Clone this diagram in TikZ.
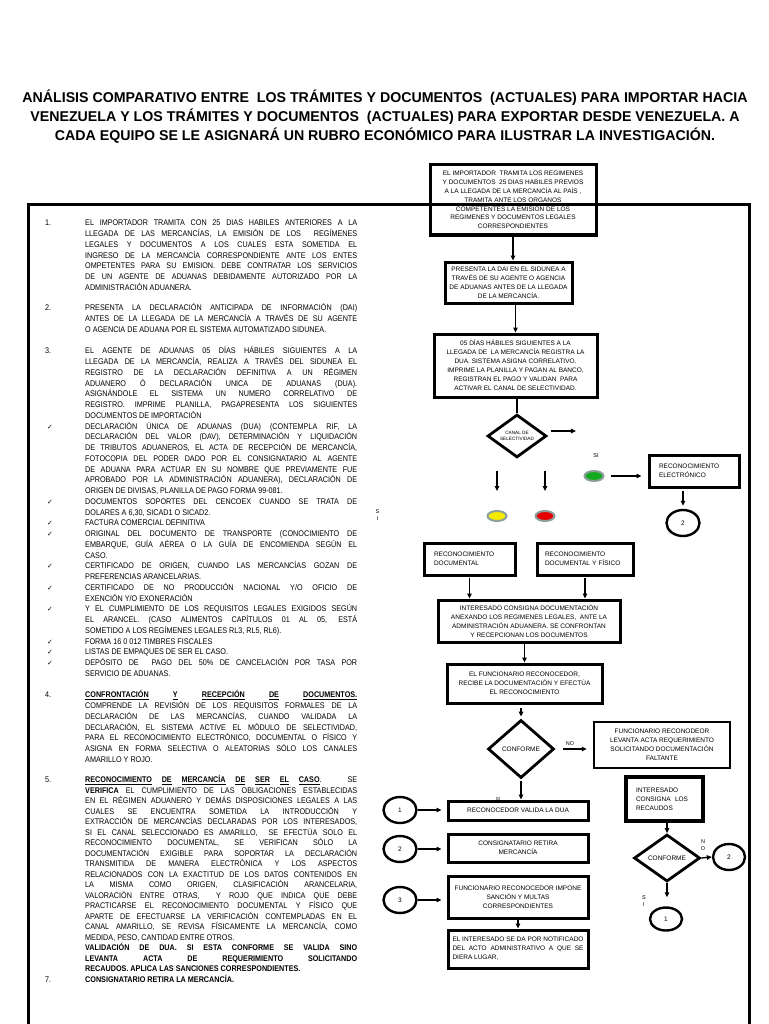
\documentclass[tikz,border=0pt]{standalone}
\usepackage{fontspec}
\setmainfont{Liberation Sans}
\newfontfamily\chkfont{DejaVu Sans}
\newfontfamily\colfam[FakeStretch=0.88]{Liberation Sans}
\usetikzlibrary{shapes.geometric,arrows.meta,calc}
\definecolor{bordeluz}{RGB}{140,158,158}
\definecolor{luzverde}{RGB}{20,170,30}
\definecolor{luzamarilla}{RGB}{245,235,0}
\definecolor{luzroja}{RGB}{230,0,0}
\newcommand{\numit}[1]{\leavevmode\llap{\makebox[40pt][l]{#1}}}
\newcommand{\marca}{\leavevmode\llap{\makebox[38pt][l]{\chkfont\fontsize{6.8}{6.8}\selectfont ✓}}}
\newcommand{\colfont}{\colfam\fontsize{8.2}{10.75}\selectfont\parindent=0pt\tolerance=10000\hbadness=10000\relax}

\begin{document}
\begin{tikzpicture}[x=1pt,y=-1pt,font=\fontsize{6.5}{9}\selectfont,>={Triangle[length=5pt,width=4.5pt]},
  caja/.style={draw,line width=3pt,align=center,inner sep=1pt},
  cajai/.style={caja,align=left,text width=#1},
  rombo/.style={draw,diamond,line width=2.8pt,inner sep=0pt,align=center},
  circ/.style={draw,ellipse,line width=2.4pt,inner sep=0pt,minimum width=33pt,minimum height=26pt},
  luz/.style={draw=bordeluz,ellipse,line width=2pt,inner sep=0pt,minimum width=19pt,minimum height=10pt},
  flecha/.style={->,line width=1.3pt},
  etq/.style={inner sep=0pt,align=center,font=\fontsize{5.5}{7}\selectfont},
  lcol/.style={anchor=north west,inner sep=0pt,text width=272pt,align=justify,font=\colfont}]
\useasboundingbox (0,0) rectangle (768,1024);

% titulo
\node[inner sep=0pt,anchor=north,align=center,font=\fontsize{14.2}{19}\selectfont\bfseries] (titulo) at (385,89.5)
  {\rule{0pt}{13.3pt}ANÁLISIS COMPARATIVO ENTRE\ \ LOS TRÁMITES Y DOCUMENTOS\ \ (ACTUALES) PARA IMPORTAR HACIA\\
   VENEZUELA Y LOS TRÁMITES Y DOCUMENTOS\ \ (ACTUALES) PARA EXPORTAR DESDE VENEZUELA. A\\
   CADA EQUIPO SE LE ASIGNARÁ UN RUBRO ECONÓMICO PARA ILUSTRAR LA INVESTIGACIÓN.};

% columna izquierda
\node[lcol] (it1) at (85,218) {\rule{0pt}{7.6pt}\numit{1.}EL IMPORTADOR TRAMITA CON 25 DIAS HABILES ANTERIORES A LA\linebreak
LLEGADA DE LAS MERCANCÍAS, LA EMISIÓN DE LOS\ \ REGÍMENES\linebreak
LEGALES Y DOCUMENTOS A LOS CUALES ESTA SOMETIDA EL\linebreak
INGRESO DE LA MERCANCÍA CORRESPONDIENTE ANTE LOS ENTES\linebreak
OMPETENTES PARA SU EMISION. DEBE CONTRATAR LOS SERVICIOS\linebreak
DE UN AGENTE DE ADUANAS DEBIDAMENTE AUTORIZADO POR LA\linebreak
ADMINISTRACIÓN ADUANERA.};
\node[lcol] (it2) at (85,303) {\rule{0pt}{7.6pt}\numit{2.}PRESENTA LA DECLARACIÓN ANTICIPADA DE INFORMACIÓN (DAI)\linebreak
ANTES DE LA LLEGADA DE LA MERCANCÍA A TRAVÉS DE SU AGENTE\linebreak
O AGENCIA DE ADUANA POR EL SISTEMA AUTOMATIZADO SIDUNEA.};
\node[lcol] (it3) at (85,346) {\rule{0pt}{7.6pt}\numit{3.}EL AGENTE DE ADUANAS 05 DÍAS HÁBILES SIGUIENTES A LA\linebreak
LLEGADA DE LA MERCANCÍA, REALIZA A TRAVÉS DEL SIDUNEA EL\linebreak
REGISTRO DE LA DECLARACIÓN DEFINITIVA A UN RÉGIMEN\linebreak
ADUANERO Ó DECLARACIÓN UNICA DE ADUANAS (DUA).\linebreak
ASIGNÁNDOLE EL SISTEMA UN NUMERO CORRELATIVO DE\linebreak
REGISTRO. IMPRIME PLANILLA, PAGAPRESENTA LOS SIGUIENTES\linebreak
DOCUMENTOS DE IMPORTACIÓN\par
\marca DECLARACIÓN ÚNICA DE ADUANAS (DUA) (CONTEMPLA RIF, LA\linebreak
DECLARACIÓN DEL VALOR (DAV), DETERMINACIÓN Y LIQUIDACIÓN\linebreak
DE TRIBUTOS ADUANEROS, EL ACTA DE RECEPCIÓN DE MERCANCÍA,\linebreak
FOTOCOPIA DEL PODER DADO POR EL CONSIGNATARIO AL AGENTE\linebreak
DE ADUANA PARA ACTUAR EN SU NOMBRE QUE PREVIAMENTE FUE\linebreak
APROBADO POR LA ADMINISTRACIÓN ADUANERA), DECLARACIÓN DE\linebreak
ORIGEN DE DIVISAS, PLANILLA DE PAGO FORMA 99-081.\par
\marca DOCUMENTOS SOPORTES DEL CENCOEX CUANDO SE TRATA DE\linebreak
DOLARES A 6,30, SICAD1 O SICAD2.\par
\marca FACTURA COMERCIAL DEFINITIVA\par
\marca ORIGINAL DEL DOCUMENTO DE TRANSPORTE (CONOCIMIENTO DE\linebreak
EMBARQUE, GUÍA AÉREA O LA GUÍA DE ENCOMIENDA SEGÚN EL\linebreak
CASO.\par
\marca CERTIFICADO DE ORIGEN, CUANDO LAS MERCANCÍAS GOZAN DE\linebreak
PREFERENCIAS ARANCELARIAS.\par
\marca CERTIFICADO DE NO PRODUCCIÓN NACIONAL Y/O OFICIO DE\linebreak
EXENCIÓN Y/O EXONERACIÓN\par
\marca Y EL CUMPLIMIENTO DE LOS REQUISITOS LEGALES EXIGIDOS SEGÚN\linebreak
EL ARANCEL. (CASO ALIMENTOS CAPÍTULOS 01 AL 05, ESTÁ\linebreak
SOMETIDO A LOS REGÍMENES LEGALES RL3, RL5, RL6).\par
\marca FORMA 16 0 012 TIMBRES FISCALES\par
\marca LISTAS DE EMPAQUES DE SER EL CASO.\par
\marca DEPÓSITO DE\ \ PAGO DEL 50\% DE CANCELACIÓN POR TASA POR\linebreak
SERVICIO DE ADUANAS.};
\node[lcol] (it4) at (85,690) {\rule{0pt}{7.6pt}\numit{4.}\textbf{\underline{CONFRONTACIÓN} \underline{Y} \underline{RECEPCIÓN} \underline{DE} \underline{DOCUMENTOS.}}\linebreak
COMPRENDE LA REVISIÓN DE LOS REQUISITOS FORMALES DE LA\linebreak
DECLARACIÓN DE LAS MERCANCÍAS, CUANDO VALIDADA LA\linebreak
DECLARACIÓN, EL SISTEMA ACTIVE EL MÓDULO DE SELECTIVIDAD,\linebreak
PARA EL RECONOCIMIENTO ELECTRÓNICO, DOCUMENTAL O FÍSICO Y\linebreak
ASIGNA EN FORMA SELECTIVA O ALEATORIAS SÓLO LOS CANALES\linebreak
AMARILLO Y ROJO.};
\node[lcol] (it5) at (85,775) {\fontsize{8.2}{10.5}\selectfont\rule{0pt}{7.6pt}\numit{5.}\textbf{\underline{RECONOCIMIENTO} \underline{DE} \underline{MERCANCÍA} \underline{DE} \underline{SER} \underline{EL} \underline{CASO}}. SE\linebreak
\textbf{VERIFICA} EL CUMPLIMIENTO DE LAS OBLIGACIONES ESTABLECIDAS\linebreak
EN EL RÉGIMEN ADUANERO Y DEMÁS DISPOSICIONES LEGALES A LAS\linebreak
CUALES SE ENCUENTRA SOMETIDA LA INTRODUCCIÓN Y\linebreak
EXTRACCIÓN DE MERCANCÍAS DECLARADAS POR LOS INTERESADOS,\linebreak
SI EL CANAL SELECCIONADO ES AMARILLO,\ \ SE EFECTÚA SOLO EL\linebreak
RECONOCIMIENTO DOCUMENTAL, SE VERIFICAN SÓLO LA\linebreak
DOCUMENTACIÓN EXIGIBLE PARA SOPORTAR LA DECLARACIÓN\linebreak
TRANSMITIDA DE MANERA ELECTRÓNICA Y LOS ASPECTOS\linebreak
RELACIONADOS CON LA EXACTITUD DE LOS DATOS CONTENIDOS EN\linebreak
LA MISMA COMO ORIGEN, CLASIFICACIÓN ARANCELARIA,\linebreak
VALORACIÓN ENTRE OTRAS,\ \ Y ROJO QUE INDICA QUE DEBE\linebreak
PRACTICARSE EL RECONOCIMIENTO DOCUMENTAL Y FÍSICO QUE\linebreak
APARTE DE EFECTUARSE LA VERIFICACIÓN CONTEMPLADAS EN EL\linebreak
CANAL AMARILLO, SE REVISA FÍSICAMENTE LA MERCANCÍA, COMO\linebreak
MEDIDA, PESO, CANTIDAD ENTRE OTROS.\par
\textbf{VALIDACIÓN DE DUA. SI ESTA CONFORME SE VALIDA SINO\linebreak
LEVANTA ACTA DE REQUERIMIENTO SOLICITANDO\linebreak
RECAUDOS. APLICA LAS SANCIONES CORRESPONDIENTES.}\par
\numit{7.}\textbf{CONSIGNATARIO RETIRA LA MERCANCÍA.}\par};

% diagrama
\node[caja,minimum width=166pt,minimum height=70pt,font=\fontsize{6.5}{8.8}\selectfont] (imp) at (513,200)
  {EL IMPORTADOR\ \ TRAMITA LOS REGIMENES\\Y DOCUMENTOS\ \ 25 DIAS HABILES PREVIOS\\A LA LLEGADA DE LA MERCANCÍA AL PAÍS ,\\TRAMITA ANTE LOS ORGANOS\\COMPETENTES LA EMISION DE LOS\\REGIMENES Y DOCUMENTOS LEGALES\\CORRESPONDIENTES};
\node[caja,minimum width=127pt,minimum height=41pt] (dai) at (508.5,282.5)
  {PRESENTA LA DAI EN EL SIDUNEA A\\TRAVÉS DE SU AGENTE O AGENCIA\\DE ADUANAS ANTES DE LA LLEGADA\\DE LA MERCANCÍA.};
\node[caja,minimum width=163pt,minimum height=63pt] (dua) at (515.5,365.5)
  {05 DÍAS HÁBILES SIGUIENTES A LA\\LLEGADA DE\ \ LA MERCANCÍA REGISTRA LA\\DUA. SISTEMA ASIGNA CORRELATIVO.\\IMPRIME LA PLANILLA Y PAGAN AL BANCO,\\REGISTRAN EL PAGO Y VALIDAN\ \ PARA\\ACTIVAR EL CANAL DE SELECTIVIDAD.};
\node[rombo,minimum width=59pt,minimum height=42pt,font=\fontsize{4.7}{5.6}\selectfont] (canal) at (517,436) {CANAL DE\\SELECTIVIDAD};
\node[luz,fill=luzverde] (verde) at (594,476) {};
\node[luz,fill=luzamarilla] (amar) at (497,516) {};
\node[luz,fill=luzroja] (rojo) at (545,516) {};
\node[cajai=70pt,minimum width=90pt,minimum height=32pt] (elec) at (694,471) {RECONOCIMIENTO\\ELECTRÓNICO};
\node[circ] (c2a) at (683,523) {2};
\node[cajai=71pt,minimum width=91pt,minimum height=32pt] (doc) at (469.5,559) {RECONOCIMIENTO\\DOCUMENTAL};
\node[cajai=80pt,minimum width=96pt,minimum height=32pt] (docfis) at (585,559) {RECONOCIMIENTO\\DOCUMENTAL Y FÍSICO};
\node[caja,minimum width=182pt,minimum height=42pt] (consig) at (529,621)
  {INTERESADO CONSIGNA DOCUMENTACIÓN\\ANEXANDO LOS REGIMENES LEGALES,\ \ ANTE LA\\ADMINISTRACIÓN ADUANERA. SE CONFRONTAN\\Y RECEPCIONAN LOS DOCUMENTOS};
\node[caja,minimum width=155pt,minimum height=39pt] (func) at (524.5,683.5)
  {EL FUNCIONARIO RECONOCEDOR,\\RECIBE LA DOCUMENTACIÓN Y EFECTÚA\\EL RECONOCIMIENTO};
\node[rombo,minimum width=66pt,minimum height=58pt] (conf) at (521,749) {CONFORME};
\node[caja,minimum width=136pt,minimum height=46pt,line width=2.5pt] (acta) at (662,745)
  {FUNCIONARIO RECONODEOR\\LEVANTA ACTA REQUERIMIENTO\\SOLICITANDO DOCUMENTACIÓN\\FALTANTE};
\node[caja,minimum width=140pt,minimum height=19pt] (valida) at (518,810.5) {RECONOCEDOR VALIDA LA DUA};
\node[circ] (c1a) at (400,810) {1};
\node[cajai=57pt,minimum width=77pt,minimum height=44pt,line width=3.5pt] (recaud) at (664.5,799) {INTERESADO\\CONSIGNA\ \ LOS\\RECAUDOS};
\node[rombo,minimum width=66pt,minimum height=47pt] (conf2) at (667,858) {CONFORME};
\node[circ,minimum width=32pt] (c2c) at (729,857) {2};
\node[circ,minimum width=32pt,minimum height=23pt] (c1c) at (666,919) {1};
\node[circ] (c2b) at (400,849) {2};
\node[circ] (c3) at (400,900) {3};
\node[caja,minimum width=140pt,minimum height=28pt] (retira) at (518,848) {CONSIGNATARIO RETIRA\\MERCANCÍA};
\node[caja,minimum width=140pt,minimum height=42pt] (sancion) at (518,897) {FUNCIONARIO RECONOCEDOR IMPONE\\SANCIÓN Y MULTAS\\CORRESPONDIENTES};
\node[caja,align=justify,text width=131pt,minimum width=140pt,minimum height=38pt] (notif) at (518,949)
  {EL INTERESADO SE DA POR NOTIFICADO\linebreak DEL ACTO ADMINISTRATIVO A QUE SE\linebreak DIERA LUGAR,};

% etiquetas
\node[etq] (si1) at (596,456) {SI};
\node[etq] (no1) at (570,744) {NO};
\node[etq,font=\fontsize{4.5}{5}\selectfont] (si2) at (498,799) {SI};
\node[etq] (no2) at (703,845) {N\\O};
\node[etq] (si3) at (644,901) {S\\I};
\node[etq] (si0) at (377.5,515.5) {S\\I};

% conectores
\draw[flecha] (imp.south) -- (imp.south |- dai.north);
\draw[flecha] (dua.north |- dai.south) -- (dua.north);
\draw[line width=1.3pt] (dua.south -| canal) -- (canal.north);
\draw[flecha] ([xshift=3pt,yshift=5pt]canal.east) -- ++(25,0);
\draw[flecha] ([yshift=39pt]amar.north) -- ([yshift=19pt]amar.north);
\draw[flecha] ([yshift=39pt]rojo.north) -- ([yshift=19pt]rojo.north);
\draw[flecha,shorten <=6pt,shorten >=6pt] (verde.east) -- (verde.east -| elec.west);
\draw[flecha,shorten <=2pt,shorten >=3pt] (c2a |- elec.south) -- (c2a.north);
\draw[flecha,shorten <=1pt] (doc.south) -- (doc.south |- consig.north);
\draw[flecha,shorten <=1pt] (docfis.south) -- (docfis.south |- consig.north);
\draw[flecha] (func.north |- consig.south) -- (func.north);
\draw[flecha,shorten <=3pt,shorten >=2pt] (func.south -| conf) -- (conf.north);
\draw[flecha,shorten <=8pt,shorten >=6pt] (conf.east) -- (conf.east -| acta.west);
\draw[flecha,shorten <=2pt] (conf.south) -- (conf.south |- valida.north);
\draw[flecha,shorten >=5pt] (c1a.east) -- (c1a.east -| valida.west);
\draw[flecha] (recaud.south -| conf2) -- (conf2.north);
\draw[flecha] (conf2.east) -- (c2c.west);
\draw[flecha,shorten >=9pt] (conf2.south) -- (conf2.south |- c1c.north);
\draw[flecha,shorten >=5pt] (c2b.east) -- (c2b.east -| retira.west);
\draw[flecha,shorten >=5pt] (c3.east) -- (c3.east -| sancion.west);
\draw[flecha] (notif.north |- sancion.south) -- (notif.north);

% marco
\draw[line width=3pt] (28,1030) -- (28,205) -- (749,205) -- (749,1030);
\end{tikzpicture}
\end{document}
